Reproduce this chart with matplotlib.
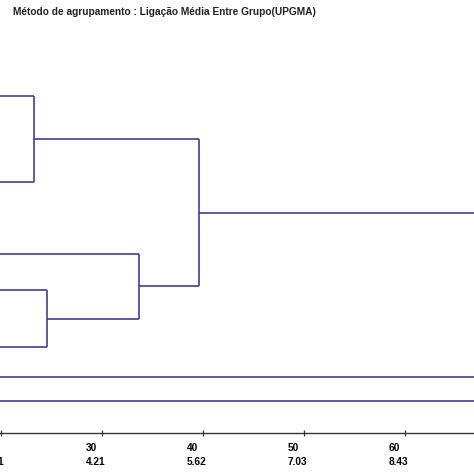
import matplotlib
matplotlib.use("Agg")
import matplotlib.pyplot as plt
from matplotlib.transforms import ScaledTranslation

# dendrogram data (UPGMA), leaf labels are cropped off in the reference
leaf_rows = [96, 182, 254, 290, 347, 377, 401]
# (child a, child b, similarity level) ; nodes 0..6 are leaves, 7.. are merges
merges = [
    (0, 1, 23.3),
    (3, 4, 24.55),
    (2, 8, 33.65),
    (7, 9, 39.6),
    (10, 5, 72.0),
    (11, 6, 78.0),
]

scale_vals = [20, 30, 40, 50, 60]
scale_dist = [2.81, 4.21, 5.62, 7.03, 8.43]

TITLE = "Método de agrupamento : Ligação Média Entre Grupo(UPGMA)"
LINE_COL = "#3f3f92"

plt.rcParams["font.family"] = ["Liberation Sans", "DejaVu Sans"]

fig = plt.figure(figsize=(4.74, 4.74), dpi=100)
ax = fig.add_axes([0, 0, 1, 1])

# node positions
node_y = list(leaf_rows)
node_x = [0.0] * len(leaf_rows)
for a, b, h in merges:
    ya, yb = node_y[a], node_y[b]
    ax.plot([node_x[a], h], [ya, ya], color=LINE_COL, lw=1.2, solid_capstyle="butt")
    ax.plot([node_x[b], h], [yb, yb], color=LINE_COL, lw=1.2, solid_capstyle="butt")
    ax.plot([h, h], [ya, yb], color=LINE_COL, lw=1.2, solid_capstyle="butt")
    node_y.append((ya + yb) / 2)
    node_x.append(h)

# scale axis
for s in ["top", "left", "right"]:
    ax.spines[s].set_visible(False)
ax.spines["bottom"].set_position(("data", 433))
ax.spines["bottom"].set_color("#333333")
ax.spines["bottom"].set_linewidth(1.0)
ax.set_yticks([])
ax.set_xticks(scale_vals)
ax.set_xticklabels([f"{v}\n{d:.2f}" for v, d in zip(scale_vals, scale_dist)],
                   fontsize=7.3, fontweight="bold", ha="left", linespacing=1.45)
ax.tick_params(axis="x", direction="inout", length=5, width=0.9, color="#333333", pad=5)
off = ScaledTranslation(-16 / 100, 0, fig.dpi_scale_trans)
for lab in ax.get_xticklabels():
    lab.set_transform(lab.get_transform() + off)

ax.set_xlim(19.9, 66.83)
ax.set_ylim(474, 0)

fig.text(13 / 474, 1 - 12 / 474, TITLE, fontsize=7.25, fontweight="bold",
         ha="left", va="center", color="#222222")

fig.savefig("out.png", dpi=100)
